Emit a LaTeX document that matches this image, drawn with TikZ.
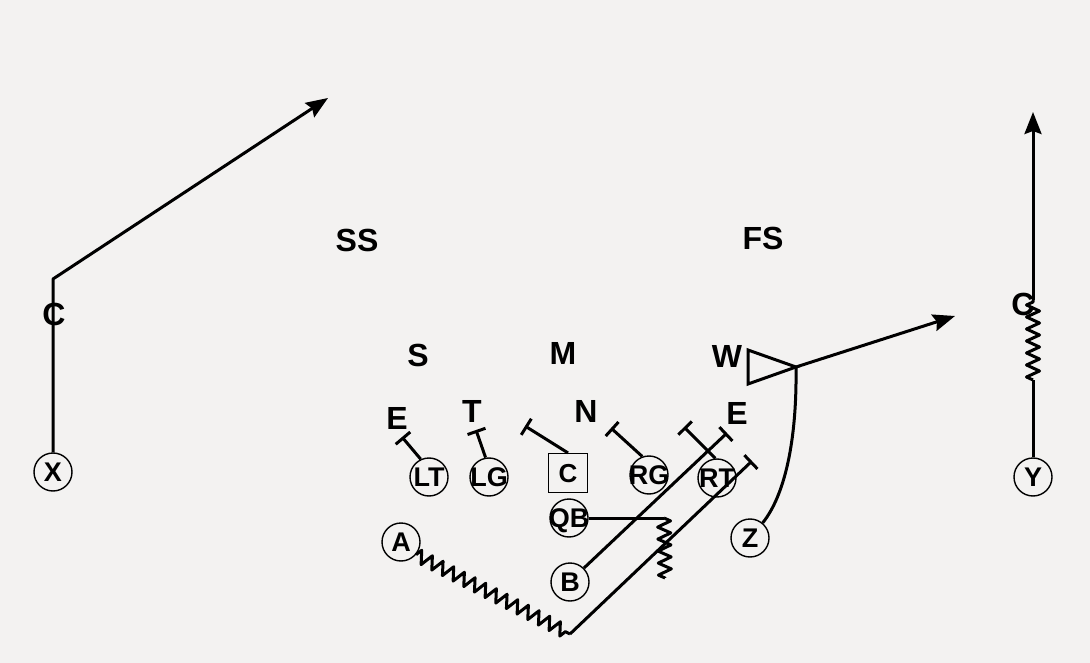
\documentclass[tikz,border=0pt]{standalone}
\usepackage{fontspec}
\setmainfont{Liberation Sans}
\usetikzlibrary{arrows.meta,decorations.pathmorphing}
\definecolor{bgc}{RGB}{243,242,241}
\newcommand{\pl}[1]{\makebox[0pt]{#1}}
\tikzset{
  player/.style={circle,draw,line width=1.4pt,minimum size=38pt,inner sep=0pt,
    text height=19pt,text depth=0pt,font=\fontsize{27}{27}\selectfont\bfseries},
  cbox/.style={rectangle,draw,line width=1.2pt,minimum size=39pt,inner sep=0pt,
    text height=18pt,text depth=0pt,font=\fontsize{26}{26}\selectfont\bfseries},
  deflab/.style={inner sep=0pt,font=\fontsize{32}{32}\selectfont\bfseries},
  route/.style={line width=3pt,line join=round},
  go/.style={route,-{Stealth[length=22pt,width=17pt,inset=3pt]}},
  blk/.style={route,-{Bar[width=19pt]}},
  zz/.style={route,decorate,decoration={zigzag,segment length=12pt,amplitude=6.5pt}},
}
\begin{document}
\begin{tikzpicture}[x=1pt,y=-1pt]
\fill[bgc] (0,0) rectangle (1090,663);
\useasboundingbox (0,0) rectangle (1090,663);

% offense
\node[player] (X) at (53,472) {\pl{X}};
\node[player] (LT) at (429,477) {\pl{LT}};
\node[player] (LG) at (489,477) {\pl{LG}};
\node[cbox] (C) at (568,473) {\pl{C}};
\node[player] (RG) at (649,475) {\pl{RG}};
\node[player] (RT) at (717,478) {\pl{RT}};
\node[player] (QB) at (569,518) {\pl{QB}};
\node[player] (A) at (401,542) {\pl{A}};
\node[player] (B) at (570,582) {\pl{B}};
\node[player] (Z) at (750,538) {\pl{Z}};
\node[player] (Y) at (1033,477) {\pl{Y}};

% defense
\node[deflab] (SS) at (357,240) {SS};
\node[deflab] (FS) at (763,238) {FS};
\node[deflab] (S) at (418,355) {S};
\node[deflab] (M) at (563,353) {M};
\node[deflab] (W) at (727,356) {W};
\node[deflab] (E1) at (397,418) {E};
\node[deflab] (T) at (472,411) {T};
\node[deflab] (N) at (586,411) {N};
\node[deflab] (E2) at (737,413) {E};
\node[deflab] (CL) at (54,314) {C};
\node[deflab] (CR) at (1023,304) {C};

% coordinates
\coordinate (xc) at (53,279);
\coordinate (xt) at (328,98);
\coordinate (y1) at (1033,380);
\coordinate (y2) at (1033,300);
\coordinate (yt) at (1033,112);
\coordinate (wa) at (748,350);
\coordinate (wb) at (748,384);
\coordinate (wt) at (796,367);
\coordinate (zt) at (955,316);
\coordinate (qbc) at (664,518);
\coordinate (qbe) at (665,578);
\coordinate (ab) at (570,634);
\coordinate (ae) at (752,461);
\coordinate (be) at (727,433);
\coordinate (b1) at (402,437);
\coordinate (b2) at (476,430);
\coordinate (b3) at (525,426);
\coordinate (b4) at (611,428);
\coordinate (b5) at (684,427);

% W triangle
\draw[route,line join=miter] (wa) -- (wb) -- (wt) -- cycle;

% routes
\draw[go] (X.north) -- (xc) -- (xt);
\draw[route] (Y.north) -- (y1);
\draw[zz] (y1) -- (y2);
\draw[go] (y2) -- (yt);
\draw[go] (Z.50) .. controls (785,495) and (797,440) .. (wt) -- (zt);
\draw[route] (QB.east) -- (qbc);
\draw[zz] (qbc) -- (qbe);
\draw[zz] (A.-40) -- (ab);
\draw[blk] (ab) -- (ae);
\draw[blk] (B.45) -- (be);

% blocks
\draw[blk] (LT.115) -- (b1);
\draw[blk] (LG.100) -- (b2);
\draw[blk] (C.north) -- (b3);
\draw[blk] (RG.110) -- (b4);
\draw[blk] (RT.95) -- (b5);
\end{tikzpicture}
\end{document}
